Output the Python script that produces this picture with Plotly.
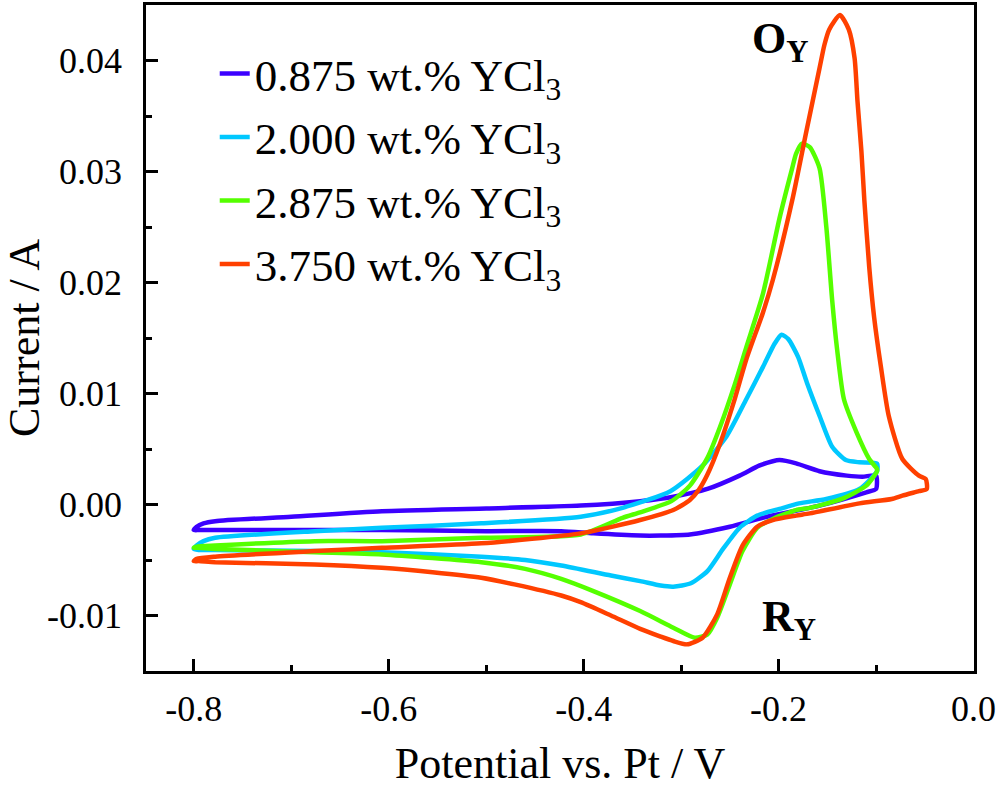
import plotly.graph_objects as go

# ---- data (potential V vs. current A), forward scan then reverse scan ----
blue_v = [-0.800, -0.797, -0.790, -0.778, -0.700, -0.607, -0.500, -0.403, -0.342, -0.308, -0.273,
          -0.240, -0.220, -0.206, -0.199, -0.182, -0.158, -0.130, -0.114, -0.100,
          -0.100, -0.110, -0.158, -0.179, -0.212, -0.250, -0.291, -0.321, -0.342, -0.390, -0.423,
          -0.500, -0.607, -0.700, -0.778, -0.795, -0.800]
blue_i = [-0.0023, -0.0020, -0.0017, -0.0015, -0.0011, -0.0006, -0.00035, -0.0001, 0.0003, 0.0007, 0.0014,
          0.0026, 0.0035, 0.0039, 0.0040, 0.0037, 0.0030, 0.0026, 0.0025, 0.0026,
          0.0014, 0.0011, -0.0001, -0.0005, -0.0011, -0.0020, -0.0027, -0.0028, -0.0028, -0.0026, -0.0024,
          -0.0024, -0.0023, -0.0023, -0.0023, -0.0023, -0.0023]

cyan_v = [-0.800, -0.797, -0.790, -0.778, -0.676, -0.607, -0.505, -0.403, -0.360, -0.311, -0.278,
          -0.253, -0.233, -0.216, -0.204, -0.197, -0.190, -0.180, -0.171, -0.158, -0.145, -0.131,
          -0.117, -0.099,
          -0.099, -0.117, -0.151, -0.179, -0.199, -0.222, -0.240, -0.257, -0.273, -0.290, -0.308,
          -0.321, -0.342, -0.372, -0.423, -0.460, -0.505, -0.607, -0.676, -0.778, -0.795, -0.800]
cyan_i = [-0.0040, -0.0037, -0.0033, -0.0030, -0.0024, -0.0021, -0.0017, -0.0011, -0.0003, 0.0012, 0.0035,
          0.0062, 0.0095, 0.0124, 0.0145, 0.0153, 0.0149, 0.0133, 0.0110, 0.0080, 0.0052, 0.0040,
          0.0038, 0.0037,
          0.0030, 0.0014, 0.0005, 0.0001, -0.0004, -0.0010, -0.0021, -0.0040, -0.0060, -0.0071, -0.0074,
          -0.0073, -0.0069, -0.0064, -0.0055, -0.0050, -0.0047, -0.0043, -0.0042, -0.0041, -0.0041, -0.0040]

green_v = [-0.800, -0.797, -0.778, -0.676, -0.607, -0.505, -0.403, -0.360, -0.342, -0.310, -0.291,
           -0.273, -0.260, -0.245, -0.233, -0.216, -0.199, -0.186, -0.182, -0.176, -0.168, -0.158,
           -0.151, -0.145, -0.140, -0.133, -0.120, -0.107, -0.099,
           -0.099, -0.110, -0.135, -0.168, -0.182, -0.206, -0.222, -0.237, -0.250, -0.263, -0.273,
           -0.286, -0.308, -0.342, -0.390, -0.423, -0.460, -0.505, -0.607, -0.676, -0.778, -0.795,
           -0.800]
green_i = [-0.0039, -0.0038, -0.0037, -0.0033, -0.0033, -0.0030, -0.0027, -0.0012, -0.0007, 0.0003, 0.0017,
           0.0042, 0.0070, 0.0108, 0.0142, 0.0190, 0.0258, 0.0303, 0.0316, 0.0325, 0.0322, 0.0303,
           0.0250, 0.0184, 0.0140, 0.0095, 0.0065, 0.0041, 0.0032,
           0.0030, 0.0017, 0.0005, -0.0003, -0.0005, -0.0013, -0.0021, -0.0042, -0.0072, -0.0102, -0.0117,
           -0.0120, -0.0111, -0.0096, -0.0078, -0.0067, -0.0058, -0.0052, -0.0045, -0.0043, -0.0040, -0.0039,
           -0.0039]

red_v = [-0.800, -0.797, -0.778, -0.676, -0.607, -0.505, -0.403, -0.342, -0.308, -0.291, -0.282,
         -0.273, -0.260, -0.245, -0.233, -0.216, -0.206, -0.186, -0.172, -0.158, -0.153, -0.148,
         -0.137, -0.128, -0.122, -0.119, -0.115, -0.112, -0.107, -0.102, -0.095, -0.087, -0.073,
         -0.056, -0.049,
         -0.048, -0.056, -0.073, -0.084, -0.117, -0.168, -0.182, -0.206, -0.222, -0.237, -0.250,
         -0.263, -0.278, -0.294, -0.308, -0.321, -0.342, -0.372, -0.403, -0.423, -0.471, -0.505,
         -0.555, -0.607, -0.676, -0.778, -0.795, -0.800]
red_i = [-0.0051, -0.0049, -0.0047, -0.0042, -0.0039, -0.0035, -0.0026, -0.0014, -0.0005, 0.0004, 0.0013,
         0.0027, 0.0055, 0.0095, 0.0131, 0.0173, 0.0202, 0.0274, 0.0334, 0.0393, 0.0414, 0.0428,
         0.0441, 0.0428, 0.0402, 0.0363, 0.0318, 0.0274, 0.0214, 0.0169, 0.0124, 0.0080, 0.0041,
         0.0026, 0.0023,
         0.0014, 0.0012, 0.0008, 0.0005, 0.0001, -0.0008, -0.0010, -0.0014, -0.0020, -0.0037, -0.0066,
         -0.0099, -0.0120, -0.0126, -0.0123, -0.0119, -0.0112, -0.0100, -0.0088, -0.0082, -0.0072, -0.0066,
         -0.0061, -0.0057, -0.0054, -0.0052, -0.0051, -0.0051]

names = ["0.875 wt.% YCl<sub>3</sub>", "2.000 wt.% YCl<sub>3</sub>",
         "2.875 wt.% YCl<sub>3</sub>", "3.750 wt.% YCl<sub>3</sub>"]
colors = ["#3C00FF", "#00C8FF", "#55FF00", "#FF4000"]

x_tickvals = [-0.8, -0.6, -0.4, -0.2, 0.0]
x_ticktext = ["-0.8", "-0.6", "-0.4", "-0.2", "0.0"]
y_tickvals = [-0.01, 0.00, 0.01, 0.02, 0.03, 0.04]
y_ticktext = ["-0.01", "0.00", "0.01", "0.02", "0.03", "0.04"]

FONT = "Liberation Serif"

fig = go.Figure()
series = [(blue_v, blue_i), (cyan_v, cyan_i), (green_v, green_i), (red_v, red_i)]
for k, ((vx, iy), nm, col) in enumerate(zip(series, names, colors)):
    fig.add_trace(go.Scatter(x=vx, y=iy, mode="lines", name=nm, legendgroup=str(k),
                             line=dict(color=col, width=4.5, shape="spline", smoothing=0.6)))

fig.add_annotation(x=-0.199, y=0.0417, xref="x", yref="y", text="<b>O<sub>Y</sub></b>",
                   showarrow=False, font=dict(family=FONT, size=44, color="black"))
fig.add_annotation(x=-0.189, y=-0.0104, xref="x", yref="y", text="<b>R<sub>Y</sub></b>",
                   showarrow=False, font=dict(family=FONT, size=44, color="black"))

fig.update_layout(
    width=998, height=788,
    margin=dict(l=143, r=23, t=2, b=114),
    paper_bgcolor="white", plot_bgcolor="white",
    font=dict(family=FONT, color="black"),
    showlegend=True,
    legend=dict(x=0.083, y=0.951, xanchor="left", yanchor="top",
                font=dict(family=FONT, size=45), bgcolor="rgba(0,0,0,0)",
                traceorder="grouped", tracegroupgap=2),
    xaxis=dict(range=[-0.849, 0.0005], tickmode="array", tickvals=x_tickvals, ticktext=x_ticktext,
               ticks="inside", ticklen=12, tickwidth=2.5, tickcolor="black",
               minor=dict(dtick=0.1, tick0=0, ticks="inside", ticklen=6, tickwidth=2.5, tickcolor="black"),
               showline=True, linewidth=2.5, linecolor="black", mirror=True,
               showgrid=False, zeroline=False,
               tickfont=dict(family=FONT, size=36), ticklabelstandoff=4,
               title=dict(text="Potential vs. Pt / V", font=dict(family=FONT, size=44), standoff=26)),
    yaxis=dict(range=[-0.015, 0.045], tickmode="array", tickvals=y_tickvals, ticktext=y_ticktext,
               ticks="inside", ticklen=12, tickwidth=2.5, tickcolor="black",
               minor=dict(dtick=0.005, tick0=0, ticks="inside", ticklen=6, tickwidth=2.5, tickcolor="black"),
               showline=True, linewidth=2.5, linecolor="black", mirror=True,
               showgrid=False, zeroline=False,
               tickfont=dict(family=FONT, size=36), ticklabelstandoff=14,
               title=dict(text="Current / A", font=dict(family=FONT, size=44), standoff=14)),
)

fig.write_html("out.html")
